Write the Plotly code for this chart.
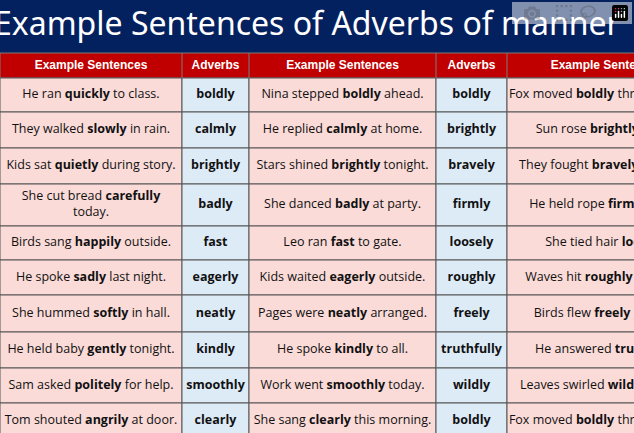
import plotly.graph_objects as go

title = "Example Sentences of Adverbs of manner"
headers = ["Example Sentences", "Adverbs", "Example Sentences", "Adverbs", "Example Sentences"]
col1 = ["He ran <b>quickly</b> to class.", "They walked <b>slowly</b> in rain.", "Kids sat <b>quietly</b> during story.",
        "She cut bread <b>carefully</b><br>today.", "Birds sang <b>happily</b> outside.", "He spoke <b>sadly</b> last night.",
        "She hummed <b>softly</b> in hall.", "He held baby <b>gently</b> tonight.", "Sam asked <b>politely</b> for help.",
        "Tom shouted <b>angrily</b> at door."]
col2 = ["boldly", "calmly", "brightly", "badly", "fast", "eagerly", "neatly", "kindly", "smoothly", "clearly"]
col3 = ["Nina stepped <b>boldly</b> ahead.", "He replied <b>calmly</b> at home.", "Stars shined <b>brightly</b> tonight.",
        "She danced <b>badly</b> at party.", "Leo ran <b>fast</b> to gate.", "Kids waited <b>eagerly</b> outside.",
        "Pages were <b>neatly</b> arranged.", "He spoke <b>kindly</b> to all.", "Work went <b>smoothly</b> today.",
        "She sang <b>clearly</b> this morning."]
col4 = ["boldly", "brightly", "bravely", "firmly", "loosely", "roughly", "freely", "truthfully", "wildly", "boldly"]
col5 = ["Fox moved <b>boldly</b> through forest.", "Sun rose <b>brightly</b> today.", "They fought <b>bravely</b> together.",
        "He held rope <b>firmly</b> today.", "She tied hair <b>loosely</b>.", "Waves hit <b>roughly</b> on rocks.",
        "Birds flew <b>freely</b> outside.", "He answered <b>truthfully</b>.", "Leaves swirled <b>wildly</b> around.",
        "Fox moved <b>boldly</b> through forest."]

cols = [col1, col2, col3, col4, col5]
xb = [0, 182, 249, 436, 507, 707]
yb = [78, 112, 148, 184, 226, 260, 295, 332, 368, 403, 439]
H0, H1 = 53, 78

fig = go.Figure()
shapes = []
shapes.append(dict(type="rect", x0=-5, x1=640, y0=-5, y1=H0, fillcolor="#03215f", line_width=0, layer="below"))
shapes.append(dict(type="rect", x0=-5, x1=720, y0=H0, y1=H1, fillcolor="#c00000", line=dict(color="#7a7a7a", width=1), layer="below"))
for c in range(5):
    for r in range(10):
        fill = "#ddebf7" if c in (1, 3) else "#fadbd8"
        shapes.append(dict(type="rect", x0=xb[c], x1=xb[c+1], y0=yb[r], y1=yb[r+1], fillcolor=fill,
                           line=dict(color="#555555", width=1), layer="below"))
    shapes.append(dict(type="line", x0=xb[c], x1=xb[c], y0=H0, y1=H1, line=dict(color="#7a7a7a", width=1)))

fig.add_trace(go.Scatter(x=[-6], y=[27], mode="text", text=[title], textposition="middle right",
                         textfont=dict(family="Noto Sans", size=32, color="white"), cliponaxis=True, hoverinfo="skip"))
hx = [(xb[i] + xb[i+1]) / 2 for i in range(5)]
fig.add_trace(go.Scatter(x=hx, y=[66]*5, mode="text", text=[f"<b>{h}</b>" for h in headers],
                         textfont=dict(family="Liberation Sans", size=12, color="white"), cliponaxis=True, hoverinfo="skip"))
for c in range(5):
    ys = [(yb[r] + yb[r+1]) / 2 for r in range(10)]
    txt = cols[c] if c in (0, 2, 4) else [f"<b>{t}</b>" for t in cols[c]]
    fig.add_trace(go.Scatter(x=[hx[c]]*10, y=ys, mode="text", text=txt,
                             textfont=dict(family="Open Sans", size=12.5, color="#111111"), cliponaxis=True, hoverinfo="skip"))

fig.update_layout(width=634, height=433, margin=dict(l=0, r=0, t=0, b=0), showlegend=False,
                  plot_bgcolor="white", paper_bgcolor="white", shapes=shapes,
                  xaxis=dict(range=[0, 634], visible=False, fixedrange=True),
                  yaxis=dict(range=[433, 0], visible=False, fixedrange=True))
fig.write_html("out.html")
with open("out.html", encoding="utf-8") as f:
    html = f.read()
html = html.replace("<head>", "<head><style>html,body{margin:0;padding:0;overflow:hidden}</style>", 1)
with open("out.html", "w", encoding="utf-8") as f:
    f.write(html)
